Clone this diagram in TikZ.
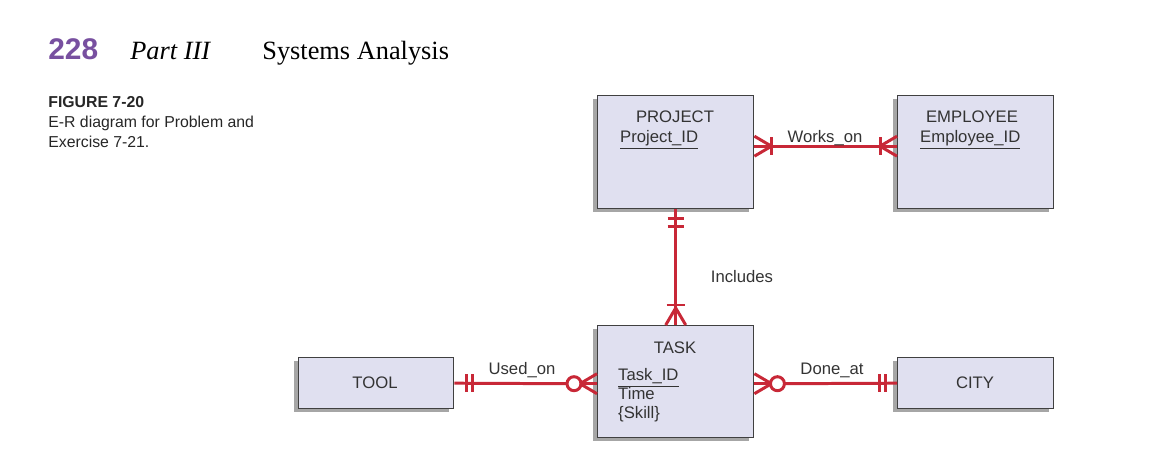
\documentclass[tikz,border=0pt]{standalone}
\usepackage{fontspec}
\setmainfont{Liberation Sans}
\newfontfamily\serifface{Liberation Serif}
\usetikzlibrary{calc}
\definecolor{er_red}{RGB}{200, 40, 55}
\definecolor{box_fill}{RGB}{224, 224, 240}
\definecolor{page_purple}{RGB}{120, 80, 160}
\tikzset{
  entity/.style={draw=black!75, fill=box_fill, line width=0.8pt, inner sep=0pt},
  shadow/.style={fill=black!35},
  rel/.style={er_red, line width=1.7pt},
  lbl/.style={font=\fontsize{9.5}{11}\selectfont, text=black!80}
}
\begin{document}
\begin{tikzpicture}[x=0.02cm, y=-0.02cm]
\useasboundingbox (0, 0) rectangle (1172, 472);

% header
\node[anchor=base west, inner sep=0pt, text=page_purple, font=\fontsize{17}{20}\bfseries] (pg) at (48, 60) {228};
\node[anchor=base west, inner sep=0pt, font=\serifface\itshape\fontsize{15}{18}\selectfont] (part) at (130, 60) {Part III};
\node[anchor=base west, inner sep=0pt, font=\serifface\fontsize{15}{18}\selectfont] (title) at (262, 60) {Systems Analysis};
\node[anchor=north west, inner sep=0pt, align=left, font=\fontsize{9}{11.5}\selectfont, text=black!85] (cap) at (48, 96)
  {\textbf{FIGURE 7-20}\\E-R diagram for Problem and\\Exercise 7-21.};

% entities
\foreach \name/\xa/\ya/\xb/\yb in {project/597/95/753/208, employee/897/95/1053/208,
    task/597/325/753/437, tool/298/357/453/408, city/897/357/1053/408} {
  \fill[shadow] (\xa-4, \ya+4) rectangle (\xb-4, \yb+4);
  \node[entity, minimum width=(\xb-\xa)*0.02cm, minimum height=(\yb-\ya)*0.02cm, anchor=north west]
    (\name) at (\xa, \ya) {};
}
\node[lbl] at (675, 117) {PROJECT};
\node[lbl, anchor=west] at (614, 140) {\underline{Project\_ID}};
\node[lbl] at (972, 117) {EMPLOYEE};
\node[lbl, anchor=west] at (914, 140) {\underline{Employee\_ID}};
\node[lbl] at (675, 348) {TASK};
\node[lbl, anchor=north west, align=left] at (612, 362) {\underline{Task\_ID}\\Time\\\{Skill\}};
\node[lbl] at (375, 383) {TOOL};
\node[lbl] at (975, 383) {CITY};

% Works_on
\draw[rel] ($(project.east)+(0,-6)$) coordinate (wa) -- ($(employee.west)+(0,-6)$) coordinate (wb);
\node[lbl] at (825, 138) {Works\_on};
\draw[rel] ($(wa)+(17,0)$) -- ($(wa)+(0,-10)$) ($(wa)+(17,0)$) -- ($(wa)+(0,10)$);
\draw[rel] ($(wa)+(17,-9)$) -- ($(wa)+(17,9)$);
\draw[rel] ($(wb)+(-17,0)$) -- ($(wb)+(0,-10)$) ($(wb)+(-17,0)$) -- ($(wb)+(0,10)$);
\draw[rel] ($(wb)+(-17,-9)$) -- ($(wb)+(-17,9)$);

% Includes
\draw[rel] (project.south) -- (task.north);
\node[lbl] at (742, 277) {Includes};
\draw[rel] ($(project.south)+(-8,9)$) -- ($(project.south)+(8,9)$);
\draw[rel] ($(project.south)+(-8,17)$) -- ($(project.south)+(8,17)$);
\draw[rel] ($(task.north)+(0,-17)$) -- ($(task.north)+(-10,0)$) ($(task.north)+(0,-17)$) -- ($(task.north)+(10,0)$);
\draw[rel] ($(task.north)+(-9,-20)$) -- ($(task.north)+(9,-20)$);

% Used_on
\coordinate (ua) at (tool.east);
\coordinate (ub) at ($(task.west)+(0,2)$);
\draw[rel] (ua) -- ($(ub)+(-30,0)$);
\draw[rel] ($(ub)+(-16,0)$) -- (ub);
\node[lbl] at (522, 370) {Used\_on};
\draw[rel] ($(ua)+(12,-9)$) -- ($(ua)+(12,9)$) ($(ua)+(18,-9)$) -- ($(ua)+(18,9)$);
\draw[rel] ($(ub)+(-23,0)$) circle (7);
\draw[rel] ($(ub)+(-17,0)$) -- ($(ub)+(0,-10)$) ($(ub)+(-17,0)$) -- ($(ub)+(0,10)$);

% Done_at
\coordinate (da) at ($(task.east)+(0,2)$);
\coordinate (db) at (city.west);
\draw[rel] (da) -- ($(da)+(16,0)$);
\draw[rel] ($(da)+(30,0)$) -- (db);
\node[lbl] at (832, 370) {Done\_at};
\draw[rel] ($(da)+(17,0)$) -- ($(da)+(0,-10)$) ($(da)+(17,0)$) -- ($(da)+(0,10)$);
\draw[rel] ($(da)+(23,0)$) circle (7);
\draw[rel] ($(db)+(-12,-9)$) -- ($(db)+(-12,9)$) ($(db)+(-18,-9)$) -- ($(db)+(-18,9)$);
\end{tikzpicture}
\end{document}
